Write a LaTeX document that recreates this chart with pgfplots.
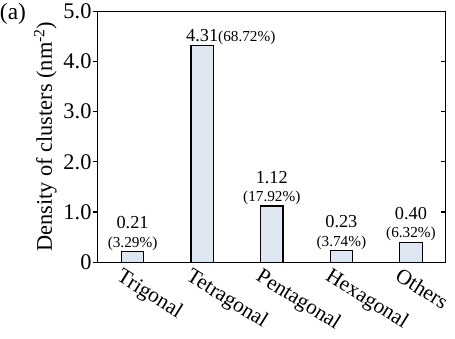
\documentclass[border=0pt]{standalone}
\usepackage{fontspec}
\setmainfont{Liberation Serif}
\usepackage{pgfplots}
\pgfplotsset{compat=1.18}

\definecolor{barfill}{RGB}{222,230,242}
\newcommand{\pct}{\fontsize{15}{16}\selectfont}

\begin{document}
\begin{tikzpicture}
\begin{axis}[
  scale only axis, width=341bp, height=246bp,
  xmin=-0.5, xmax=4.5, ymin=0, ymax=5,
  ybar, bar width=22bp, clip=false,
  xtick={0,...,4},
  xticklabels={Trigonal,Tetragonal,Pentagonal,Hexagonal,Others},
  major x tick style={draw=none},
  x tick label style={rotate=-32, anchor=north west, xshift=-11bp, yshift=-1bp,
    font=\fontsize{21}{22}\selectfont},
  ytick={0,...,5}, yticklabels={0,1.0,2.0,3.0,4.0,5.0},
  y tick label style={font=\fontsize{22}{23}\selectfont, inner sep=1bp},
  ytick pos=left, tick align=outside, major tick length=5bp,
  tick style={line width=1.2bp, black},
  axis line style={line width=1.3bp},
  /pgf/number format/assume math mode=true,
  ylabel={Density of clusters (nm\textsuperscript{-2})},
  ylabel style={font=\fontsize{22}{23}\selectfont, yshift=2bp},
]
\addplot[fill=barfill, draw=black, line width=1.1bp] coordinates
  {(0,0.21) (1,4.31) (2,1.12) (3,0.23) (4,0.40)};
\node[anchor=south, align=center, font=\fontsize{18}{19}\selectfont, inner sep=1bp] at (axis cs:0,0.21) {0.21\\[-1bp]{\pct(3.29\%)}};
\node[anchor=south, font=\fontsize{18}{19}\selectfont, inner sep=1bp] at (axis cs:1,4.31) {4.31\rlap{\pct(68.72\%)}};
\node[anchor=south, align=center, font=\fontsize{18}{19}\selectfont, inner sep=1bp] at (axis cs:2,1.12) {1.12\\[-1bp]{\pct(17.92\%)}};
\node[anchor=south, align=center, font=\fontsize{18}{19}\selectfont, inner sep=1bp] at (axis cs:3,0.23) {0.23\\[-1bp]{\pct(3.74\%)}};
\node[anchor=south, align=center, font=\fontsize{18}{19}\selectfont, inner sep=1bp] at (axis cs:4,0.40) {0.40\\[-1bp]{\pct(6.32\%)}};
\node[anchor=west, font=\fontsize{23}{24}\selectfont, inner sep=0pt] at (rel axis cs:0,1) [xshift=-96bp, yshift=-3bp] {(a)};
\path (rel axis cs:0,1) ++(0,11bp);
\end{axis}
\begin{axis}[
  scale only axis, width=341bp, height=246bp,
  xmin=-0.5, xmax=4.5, ymin=0, ymax=5,
  axis x line=none, axis y line*=right,
  ytick={0,...,5}, yticklabels={},
  tick align=inside, major tick length=5bp,
  tick style={line width=1.2bp, black},
  axis line style={line width=1.3bp, -},
]
\end{axis}
\end{tikzpicture}
\end{document}
